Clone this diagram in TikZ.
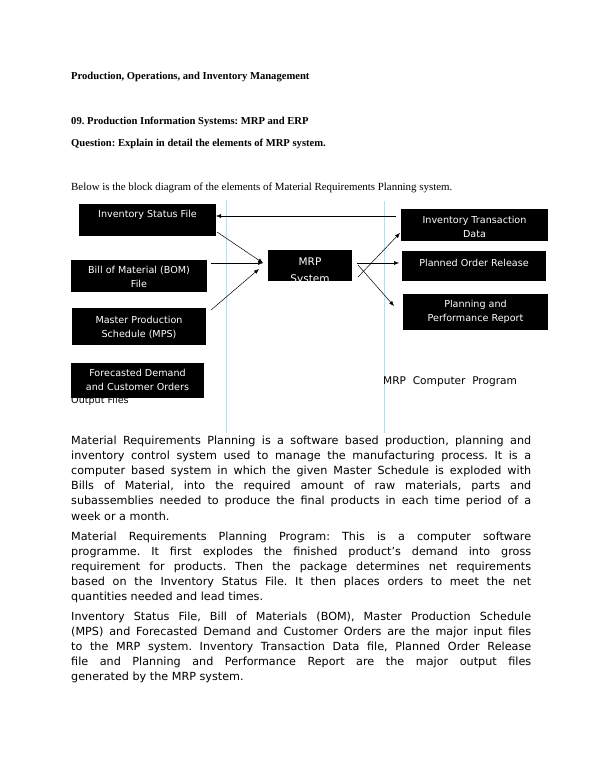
\documentclass[tikz,border=0pt]{standalone}
\usepackage{fontspec}
\setmainfont{DejaVu Sans}
\newfontfamily\serifx{Liberation Serif}
\usetikzlibrary{arrows.meta}
\begin{document}
\frenchspacing
\begin{tikzpicture}[x=1pt,y=-1pt,
  blk/.style={fill=black},
  btxt/.style={text=white,font=\fontsize{9.6}{14}\selectfont,align=center,inner sep=0pt},
  arr/.style={-{Latex[length=5pt,width=4pt]},line width=0.5pt},
  hd/.style={anchor=west,inner sep=0pt,font=\serifx\bfseries\fontsize{10.6}{12}\selectfont},
  bl/.style={anchor=west,inner sep=0pt,font=\fontsize{11.2}{13}\selectfont},
  vl/.style={draw=blue!30!cyan!35,line width=0.8pt}]
\useasboundingbox (0,0) rectangle (600,776);
\fill[white] (0,0) rectangle (600,776);
% headings
\node[hd] (h1) at (71,77) {Production, Operations, and Inventory Management};
\node[hd] (h2) at (71,122) {09. Production Information Systems: MRP and ERP};
\node[hd] (h3) at (71,144) {Question: Explain in detail the elements of MRP system.};
\node[anchor=west,inner sep=0pt,font=\serifx\fontsize{10.9}{12}\selectfont] (h4) at (71,188) {Below is the block diagram of the elements of Material Requirements Planning system.};
% vertical lines
\draw[vl] (226,200) -- (226,433);
\draw[vl] (384,201) -- (384,433);
\node[anchor=west,inner sep=0pt,font=\fontsize{9.6}{10}\selectfont] (of) at (71,401) {Output Files};
% boxes
\newcommand\bx[6]{%
 \fill[blk] (#2,#3) rectangle (#4,#5);
 \coordinate (#1) at ({(#2+#4)/2},{(#3+#5)/2});
 \begin{scope}\clip (#2,#3) rectangle (#4,#5); #6 \end{scope}}
\bx{isf}{79}{204}{216}{236}{\node[btxt] (tisf) at (147.5,215) {Inventory Status File};}
\bx{bom}{71}{260}{207}{292}{\node[btxt] (tbom) at (139,277) {Bill of Material (BOM)\\File};}
\bx{mps}{72}{308}{206}{345}{\node[btxt] (tmps) at (139,327) {Master Production\\Schedule (MPS)};}
\bx{fdc}{71}{363}{204}{398}{\node[btxt] (tfdc) at (137.5,380) {Forecasted Demand\\and Customer Orders};}
\bx{mrp}{268}{250}{352}{281}{\node[btxt,font=\fontsize{10.5}{17}\selectfont] (tmrp) at (310,271) {MRP\\System};}
\bx{itd}{401}{209}{548}{241}{\node[btxt] (titd) at (474.5,227) {Inventory Transaction\\Data};}
\bx{por}{402}{251}{546}{281}{\node[btxt] (tpor) at (474,263) {Planned Order Release};}
\bx{ppr}{403}{294}{548}{330}{\node[btxt] (tppr) at (475.5,312) {Planning and\\Performance Report};}
\node[anchor=west,inner sep=0pt,font=\fontsize{10.6}{11}\selectfont] (mcp) at (383,382) {MRP\ \ Computer\ \ Program};
% connectors
\coordinate (a0) at (396,216);
\coordinate (a1) at (217,232);
\coordinate (a2) at (211,263);
\coordinate (a3) at (211,310);
\coordinate (m1) at (263,263);
\coordinate (m2) at (259,269);
\coordinate (o1) at (357,263);
\coordinate (o2) at (358,277);
\coordinate (o3) at (358,265);
\coordinate (e1) at (399,263);
\coordinate (e2) at (400,233);
\coordinate (e3) at (394,306);
\draw[arr] (a0) -- (216,216);
\draw[arr] (a1) -- (m1);
\draw[arr] (a2) -- (m1);
\draw[arr] (a3) -- (m2);
\draw[arr] (o1) -- (e1);
\draw[arr] (o2) -- (e2);
\draw[arr] (o3) -- (e3);
% body text
\newcommand\jline[2]{\node[bl] at (71,#1) {\makebox[460pt][s]{#2}};}
\newcommand\lline[2]{\node[bl] at (71,#1) {#2};}
\jline{441}{Material Requirements Planning is a software based production, planning and}
\jline{456}{inventory control system used to manage the manufacturing process. It is a}
\jline{471}{computer based system in which the given Master Schedule is exploded with}
\jline{486}{Bills of Material, into the required amount of raw materials, parts and}
\jline{501}{subassemblies needed to produce the final products in each time period of a}
\lline{516}{week or a month.}
\jline{537}{Material Requirements Planning Program: This is a computer software}
\jline{552}{programme. It first explodes the finished product's demand into gross}
\jline{567}{requirement for products. Then the package determines net requirements}
\jline{582}{based on the Inventory Status File. It then places orders to meet the net}
\lline{597}{quantities needed and lead times.}
\jline{617}{Inventory Status File, Bill of Materials (BOM), Master Production Schedule}
\jline{632}{(MPS) and Forecasted Demand and Customer Orders are the major input files}
\jline{647}{to the MRP system. Inventory Transaction Data file, Planned Order Release}
\jline{662}{file and Planning and Performance Report are the major output files}
\lline{677}{generated by the MRP system.}
\end{tikzpicture}
\end{document}
